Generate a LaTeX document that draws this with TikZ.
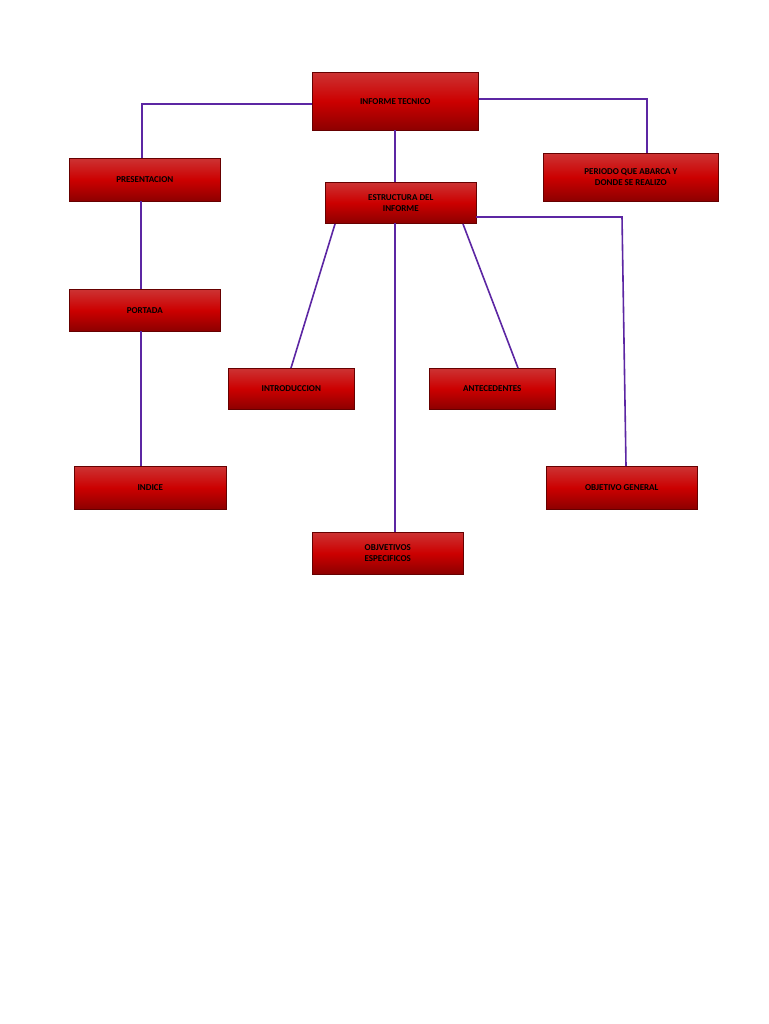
\documentclass[tikz,border=0pt]{standalone}
\usepackage{fontspec}
\setmainfont{Carlito}
\begin{document}
\begin{tikzpicture}[x=1pt,y=-1pt,
  bx/.style={draw=red!40!black,line width=0.6pt,top color=red!75!black!80,bottom color=red!55!black,middle color=red!80!black,
    align=center,font=\bfseries\fontsize{9}{11}\selectfont,inner sep=0pt,anchor=north west},
  ln/.style={draw=violet!60!blue!70!gray,line width=1.6pt}]
\useasboundingbox (0,0) rectangle (768,1024);
\fill[white] (0,0) rectangle (768,1024);
\newcommand\bxnode[6]{\node[bx,minimum width=#4,minimum height=#5] (#1) at (#2,#3) {#6};}
\bxnode{inf}{312}{72}{166pt}{58pt}{INFORME TECNICO}
\bxnode{pre}{69}{158}{151pt}{43pt}{PRESENTACION}
\bxnode{per}{543}{153}{175pt}{48pt}{PERIODO QUE ABARCA Y\\DONDE SE REALIZO}
\bxnode{est}{325}{182}{151pt}{41pt}{ESTRUCTURA DEL\\INFORME}
\bxnode{por}{69}{289}{151pt}{42pt}{PORTADA}
\bxnode{intr}{228}{368}{126pt}{41pt}{INTRODUCCION}
\bxnode{ant}{429}{368}{126pt}{41pt}{ANTECEDENTES}
\bxnode{ind}{74}{466}{152pt}{43pt}{INDICE}
\bxnode{obg}{546}{466}{151pt}{43pt}{OBJETIVO GENERAL}
\bxnode{obe}{312}{532}{151pt}{42pt}{OBJVETIVOS\\ESPECIFICOS}
\begin{scope}[on background layer/.style={}]
\end{scope}
\draw[ln] (inf.west|-0,104) -- (142,104) -- (142,158);
\draw[ln] (inf.east|-0,99) -- (647,99) -- (647,153);
\draw[ln] (395,130) -- (395,182);
\draw[ln] (141,201) -- (141,289);
\draw[ln] (141,331) -- (141,466);
\draw[ln] (335,224) -- (291,368);
\draw[ln] (463,224) -- (518,368);
\draw[ln] (395,223) -- (395,532);
\draw[ln] (476,217) -- (622,217) -- (626,466);
\end{tikzpicture}
\end{document}
